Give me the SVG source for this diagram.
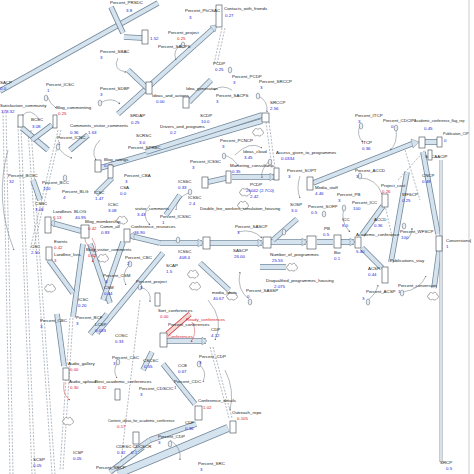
<svg xmlns="http://www.w3.org/2000/svg" width="474" height="474" viewBox="0 0 474 474">
<defs>
<style>
.po{fill:none;stroke:#74899b;stroke-width:5.6;stroke-linecap:butt}
.pi{fill:none;stroke:#d5e3ee;stroke-width:4;stroke-linecap:butt}
.wo{fill:none;stroke:#74899b;stroke-width:8}
.wi{fill:none;stroke:#d5e3ee;stroke-width:6.4}
.no{fill:none;stroke:#8a98a6;stroke-width:3}
.ni{fill:none;stroke:#eef3f7;stroke-width:1.6}
.ro{fill:none;stroke:#d04848;stroke-width:5}
.ri{fill:none;stroke:#f4d8d8;stroke-width:3.6}
.dd{fill:none;stroke:#7d8a96;stroke-width:0.6;stroke-dasharray:2,1.4}
.ln{fill:none;stroke:#5a6470;stroke-width:0.45;marker-end:url(#ah)}
.lr{fill:none;stroke:#d04848;stroke-width:0.5;marker-end:url(#ahr)}
.st{fill:#fff;stroke:#3c4650;stroke-width:0.6}
.vl{fill:#e8eef4;stroke:#4a5560;stroke-width:0.45}
.ar{fill:#d5e3ee;stroke:#74899b;stroke-width:0.5}
.cl{fill:#fff;stroke:#555;stroke-width:0.5}
text{font-family:"Liberation Sans Narrow","Liberation Sans",Arial,sans-serif;font-size:4.4px;fill:#222}
.sm{font-size:3.6px}
.v{fill:#2424d8}
.r{fill:#d42424}
</style>
<marker id="ah" viewBox="0 0 6 6" refX="5" refY="3" markerWidth="4" markerHeight="4" orient="auto"><path d="M0,0L6,3L0,6z" fill="#5a6470"/></marker>
<marker id="ahr" viewBox="0 0 6 6" refX="5" refY="3" markerWidth="4" markerHeight="4" orient="auto"><path d="M0,0L6,3L0,6z" fill="#d04848"/></marker>
<path id="cloud" d="M-4,2 C-6,2 -6,-1 -4,-1 C-4,-4 -1,-4 0,-2.5 C1,-4.5 4,-4 4,-1 C6,-1 6,2 4,2.5 C3,4.5 0,4.5 -0.5,3 C-2,4.5 -4,4 -4,2z"/>
<ellipse id="valve" rx="1.8" ry="3" />
</defs>
<rect width="474" height="474" fill="#fff"/>
<line x1="469" y1="0" x2="469" y2="474" stroke="#c9ced3" stroke-width="1"/>

<g id="connectors">
 <path class="dd" d="M3,112 L10,474"/><path class="dd" d="M6,112 L13,474"/>
 <path class="dd" d="M18,126 L32,474"/><path class="dd" d="M21,126 L35,474"/>
 <path class="dd" d="M28,130 L52,474"/><path class="dd" d="M31,130 L55,474"/>
 <path class="dd" d="M58,130 L30,250"/><path class="dd" d="M61,130 L33,250"/>
 <path class="dd" d="M222,28 L214,64"/><path class="dd" d="M225,28 L217,64"/>
 <path class="dd" d="M266,122 L272,168"/><path class="dd" d="M269,122 L275,168"/>
 <path class="dd" d="M385,205 L395,250"/><path class="dd" d="M398,180 L425,150"/>
 <path class="dd" d="M405,150 L420,200"/>
 <path class="dd" d="M210,347 L229,418"/><path class="dd" d="M213,347 L232,418"/>
 <path class="dd" d="M70,318 L60,470"/><path class="dd" d="M73,318 L63,470"/>
 <path class="dd" d="M140,300 L120,470"/>

 <path class="po" d="M0,91 L158,3"/><path class="pi" d="M0,91 L158,3"/>
 <path class="po" d="M118,114 L214,28"/><path class="pi" d="M118,114 L214,28"/>
 <polygon class="ar" points="210,26 217,25 215,32"/>
 <path class="po" d="M111,7 L123,33"/><path class="pi" d="M111,7 L123,33"/>
 <path class="po" d="M124,37 L142,38"/><path class="pi" d="M124,37 L142,38"/>
 <path class="po" d="M128,70 L147,88"/><path class="pi" d="M128,70 L147,88"/>
 <path class="po" d="M189,102 L211,80"/><path class="pi" d="M189,102 L211,80"/>
 <path class="po" d="M100,168 L262,121"/><path class="pi" d="M100,168 L262,121"/>
 <path class="po" d="M146,152 L262,115"/><path class="pi" d="M146,152 L262,115"/>
 <path class="po" d="M313,183 L414,143"/><path class="pi" d="M313,183 L414,143"/>
 <polygon class="ar" points="411,139 419,142 413,148"/>
 <path class="po" d="M425,142 L437,142"/><path class="pi" d="M425,142 L437,142"/>
 <path class="po" d="M423,152 L438,234"/><path class="pi" d="M423,152 L438,234"/>
 <path class="po" d="M439,251 L434,288"/><path class="pi" d="M439,251 L434,288"/>
 <path class="no" d="M441,160 L441,462"/><path class="ni" d="M441,160 L441,462"/>

 <path class="po" d="M160,243 L202,243"/><path class="pi" d="M160,243 L202,243"/>
 <polygon class="ar" points="198,239 204,243 198,247"/>
 <path class="po" d="M210,243 L262,243"/><path class="pi" d="M210,243 L262,243"/>
 <polygon class="ar" points="258,239 263,243 258,247"/>
 <path class="po" d="M271,242 L306,242"/><path class="pi" d="M271,242 L306,242"/>
 <polygon class="ar" points="302,238 307,242 302,246"/>
 <path class="po" d="M317,242 L333,242"/><path class="pi" d="M317,242 L333,242"/>
 <path class="po" d="M341,242 L354,242"/><path class="pi" d="M341,242 L354,242"/>
 <polygon class="ar" points="350,238 355,242 350,246"/>
 <path class="po" d="M362,235 L383,206"/><path class="pi" d="M362,235 L383,206"/>
 <path class="po" d="M362,248 L382,268"/><path class="pi" d="M362,248 L382,268"/>
 <path class="po" d="M391,262 L407,172"/><path class="pi" d="M391,262 L407,172"/>
 <path class="po" d="M273,240 L297,219"/><path class="pi" d="M273,240 L297,219"/>
 <path class="po" d="M232,177 L274,177"/><path class="pi" d="M232,177 L274,177"/>
 <polygon class="ar" points="270,173 275,177 270,181"/>
 <path class="po" d="M208,182 L226,178"/><path class="pi" d="M208,182 L226,178"/>
 <path class="po" d="M166,215 L180,195"/><path class="pi" d="M166,215 L180,195"/>
 <path class="po" d="M200,263 L229,290"/><path class="pi" d="M200,263 L229,290"/>
 <path class="po" d="M260,267 L286,267"/><path class="pi" d="M260,267 L286,267"/>
 <path class="po" d="M160,243 L131,236"/><path class="pi" d="M160,243 L131,236"/>
 <polygon class="ar" points="134,232 129,236 134,240"/>
 <path class="po" d="M81,231 L52,223"/><path class="pi" d="M81,231 L52,223"/>
 <polygon class="ar" points="55,219 50,223 54,227"/>
 <path class="po" d="M97,333 L163,253"/><path class="pi" d="M97,333 L163,253"/>
 <path class="po" d="M83,244 L73,317"/><path class="pi" d="M83,244 L73,317"/>
 <path class="po" d="M90,244 L110,303"/><path class="pi" d="M90,244 L110,303"/>
 <path class="po" d="M123,242 L103,300"/><path class="pi" d="M123,242 L103,300"/>
 <path class="po" d="M49,260 L73,293"/><path class="pi" d="M49,260 L73,293"/>
 <path class="po" d="M22,128 L48,150"/><path class="pi" d="M22,128 L48,150"/>
 <path class="po" d="M32,140 L52,125"/><path class="pi" d="M32,140 L52,125"/>
 <path class="po" d="M70,150 L88,135"/><path class="pi" d="M70,150 L88,135"/>
 <path class="po" d="M40,200 L33,180"/><path class="pi" d="M40,200 L33,180"/>
 <path class="po" d="M112,178 L96,194"/><path class="pi" d="M112,178 L96,194"/>
 <path class="po" d="M167,341 L206,341"/><path class="pi" d="M167,341 L206,341"/>
 <polygon class="ar" points="202,337 207,341 202,345"/>
 <path class="ro" d="M167,334 L190,314"/><path class="ri" d="M167,334 L190,314"/>
 <path class="po" d="M163,364 L195,404"/><path class="pi" d="M163,364 L195,404"/>
 <path class="po" d="M57,314 L64,366"/><path class="pi" d="M57,314 L64,366"/>
 <path class="po" d="M90,334 L107,314"/><path class="pi" d="M90,334 L107,314"/>
 <path class="po" d="M110,472 L143,447"/><path class="pi" d="M110,472 L143,447"/>
 <path class="wo" d="M118,474 L228,428"/><path class="wi" d="M118,474 L228,428"/>
 <path class="po" d="M150,440 L196,424"/><path class="pi" d="M150,440 L196,424"/>
 <path class="po" d="M136,450 L150,440"/><path class="pi" d="M136,450 L150,440"/>
 <path class="po" d="M143,370 L152,352"/><path class="pi" d="M143,370 L152,352"/>

 <path class="ln" d="M47,96 Q50,104 56,108"/>
 <path class="ln" d="M100,103 Q112,96 120,104"/>
 <path class="ln" d="M118,58 Q112,70 126,72"/>
 <path class="ln" d="M182,44 Q172,50 176,60"/>
 <path class="ln" d="M232,90 Q222,84 214,90"/>
 <path class="ln" d="M258,96 Q268,100 267,112"/>
 <path class="ln" d="M224,155 Q234,158 238,166"/>
 <path class="ln" d="M270,160 Q260,170 262,178"/>
 <path class="ln" d="M238,232 Q252,228 262,238"/>
 <path class="ln" d="M250,300 Q236,290 240,272"/>
 <path class="ln" d="M360,178 Q376,178 382,194"/>
 <path class="ln" d="M344,208 Q340,222 350,232"/>
 <path class="ln" d="M406,240 Q412,236 412,228"/>
 <path class="ln" d="M368,300 Q376,294 378,285"/>
 <path class="ln" d="M402,292 Q420,290 426,276"/>
 <path class="ln" d="M140,287 Q152,290 150,302"/>
 <path class="ln" d="M190,192 Q176,198 176,210"/>
 <path class="ln" d="M58,147 Q64,156 72,158"/>
 <path class="ln" d="M118,362 Q112,370 117,378"/>
 <path class="ln" d="M198,364 Q208,370 203,382"/>
 <path class="ln" d="M170,440 Q182,448 180,460"/>
 <path class="ln" d="M8,150 Q-6,200 14,250"/>
 <path class="ln" d="M360,125 Q356,136 363,142"/>
 <path class="ln" d="M396,128 Q398,144 390,150"/>
 <path class="ln" d="M150,205 Q140,215 150,225"/>
 <path class="ln" d="M130,264 Q120,275 126,285"/>
 <path class="ln" d="M235,155 Q250,140 262,148"/>
 <path class="ln" d="M300,176 Q296,188 300,198"/>
 <path class="ln" d="M208,300 Q225,320 215,340"/>
 <path class="ln" d="M225,370 Q235,390 230,410"/>
 <path class="ln" d="M40,120 Q30,106 22,116"/>
 <path class="ln" d="M100,140 Q90,150 96,160"/>
 <path class="lr" d="M86,226 Q80,246 96,250"/>
 <path class="lr" d="M92,238 Q100,252 92,262"/>
 <path class="lr" d="M64,382 Q62,395 70,400"/>
 <path class="lr" d="M192,322 Q198,332 191,342"/>
</g>

<g id="clouds">
 <use href="#cloud" class="cl" x="258" y="132"/>
 <use href="#cloud" class="cl" x="245" y="192"/>
 <use href="#cloud" class="cl" x="232" y="296"/>
 <use href="#cloud" class="cl" x="193" y="274"/>
 <use href="#cloud" class="cl" x="292" y="267"/>
 <use href="#cloud" class="cl" x="433" y="296"/>
 <use href="#cloud" class="cl" x="103" y="258"/>
 <use href="#cloud" class="cl" x="50" y="288"/>
 <use href="#cloud" class="cl" x="68" y="421"/>
 <use href="#cloud" class="cl" x="195" y="286"/>
 <use href="#cloud" class="cl" x="122" y="220"/>
 <use href="#cloud" class="cl" x="243" y="205"/>
</g>

<g id="valves">
 <use href="#valve" class="vl" x="46" y="98"/>
 <use href="#valve" class="vl" x="100" y="103"/>
 <use href="#valve" class="vl" x="183" y="45"/>
 <use href="#valve" class="vl" x="230" y="70"/>
 <use href="#valve" class="vl" x="258" y="96"/>
 <use href="#valve" class="vl" x="224" y="156"/>
 <use href="#valve" class="vl" x="270" y="162"/>
 <use href="#valve" class="vl" x="284" y="232"/>
 <use href="#valve" class="vl" x="250" y="302"/>
 <use href="#valve" class="vl" x="360" y="176"/>
 <use href="#valve" class="vl" x="344" y="208"/>
 <use href="#valve" class="vl" x="324" y="214"/>
 <use href="#valve" class="vl" x="368" y="302"/>
 <use href="#valve" class="vl" x="402" y="293"/>
 <use href="#valve" class="vl" x="404" y="226"/>
 <use href="#valve" class="vl" x="361" y="126"/>
 <use href="#valve" class="vl" x="396" y="128"/>
 <use href="#valve" class="vl" x="58" y="147"/>
 <use href="#valve" class="vl" x="118" y="362"/>
 <use href="#valve" class="vl" x="199" y="364"/>
 <use href="#valve" class="vl" x="170" y="444"/>
 <use href="#valve" class="vl" x="130" y="264"/>
 <use href="#valve" class="vl" x="190" y="192"/>
 <use href="#valve" class="vl" x="140" y="287"/>
 <use href="#valve" class="vl" x="65" y="178"/>
 <use href="#valve" class="vl" x="178" y="240"/>
</g>

<g id="n_sacp"><text x="0" y="84">SACP</text><text class="v" x="0" y="90">0.0</text></g>
<g id="n_satisfaction"><text x="0" y="107">Satisfaction_community</text><text class="v" x="1" y="113">378.32</text></g>
<g id="n_pct_icsc"><text x="46" y="86">Percent_ICSC</text><text class="v" x="47" y="92">1</text></g>
<g id="n_blog_comm"><rect class="st" x="53" y="115" width="4" height="13"/><text x="56" y="109">Blog_commenting</text><text class="r" x="58" y="115">0.25</text></g>
<g id="n_bcsc"><rect class="st" x="18" y="115" width="5" height="12"/><text x="31" y="121">BCSC</text><text class="v" x="32" y="128">3.08</text></g>
<g id="n_comments"><text x="70" y="127">Comments_visitor_comments</text><text class="v" x="70" y="134">0.36</text><text class="v" x="88" y="134">1.63</text></g>
<g id="n_pct_icnc"><text x="57" y="139">Percent_ICNC</text><text class="v" x="58" y="145">1</text></g>
<g id="n_pct_sbac"><text x="100" y="53">Percent_SBAC</text><text class="v" x="100" y="59">3</text></g>
<g id="n_pct_sdbp"><text x="100" y="90">Percent_SDBP</text><text class="v" x="100" y="96">3</text></g>
<g id="n_top_stock"><rect class="st" x="142" y="30" width="6" height="14"/><text class="v" x="150" y="40">1.52</text></g>
<g id="n_top2"><rect class="st" x="146" y="82" width="6" height="12"/><text x="110" y="4">Percent_PRSDC</text><text class="v" x="126" y="12">3.8</text></g>
<g id="n_srdap"><text x="130" y="117">SRDAP</text><text class="v" x="131" y="124">0.25</text></g>
<g id="n_ideas"><text x="152" y="97">Ideas_and_actions</text><text class="v" x="156" y="103">0.00</text></g>
<g id="n_scrsc"><text x="136" y="137">SCRSC</text><text class="v" x="139" y="144">3.0</text></g>
<g id="n_pct_sprbc"><text x="128" y="149">Percent_SPRBC</text></g>
<g id="n_blog_ratings"><rect class="st" x="95" y="160" width="6" height="12"/><text x="104" y="161">Blog_ratings</text><text class="v" x="104" y="167">0.41</text></g>
<g id="n_drivers"><text x="160" y="128">Drivers_and_programs</text><text class="v" x="170" y="134">0.2</text></g>
<g id="n_contacts"><rect class="st" x="216" y="5" width="6" height="22"/><text x="224" y="10">Contacts_with_friends</text><text class="v" x="225" y="17">0.27</text></g>
<g id="n_pct_phcsac"><text x="185" y="12">Percent_PhCSAC</text><text class="v" x="189" y="19">3</text></g>
<g id="n_pct_project"><text x="168" y="34">Percent_project</text><text class="r" x="177" y="40">0.25</text></g>
<g id="n_pct_sacps1"><text x="158" y="48">Percent_SACPS</text></g>
<g id="n_pcdp"><rect class="st" x="183" y="97" width="6" height="11"/><text x="213" y="65">PCDP</text><text class="v" x="215" y="71">0.25</text></g>
<g id="n_pct_pcdp"><text x="232" y="78">Percent_PCDP</text><text class="v" x="233" y="84">3</text></g>
<g id="n_pct_sacps"><text x="216" y="97">Percent_SACPS</text><text class="v" x="216" y="103">3</text></g>
<g id="n_idea_gen"><text x="186" y="90">Idea_generation</text></g>
<g id="n_scdp"><text x="200" y="117">SCDP</text><text class="v" x="201" y="123">10.0</text></g>
<g id="n_pct_srccp"><text x="259" y="83">Percent_SRCCP</text><text class="v" x="260" y="89">3</text></g>
<g id="n_srccp"><rect class="st" x="262" y="113" width="7" height="9"/><text x="270" y="104">SRCCP</text><text class="v" x="270" y="110">2.56</text></g>
<g id="n_pct_pcncp"><text x="220" y="142">Percent_PCNCP</text><text class="v" x="222" y="148">3</text></g>
<g id="n_ideas_cloud"><text x="243" y="153">Ideas_cloud</text><text class="v" x="244" y="159">3.45</text></g>
<g id="n_access"><text x="276" y="154">Access_given_to_programmes</text><text class="v" x="281" y="160">0.0334</text></g>
<g id="n_marketing"><rect class="st" x="226" y="171" width="5" height="12"/><rect class="st" x="274" y="168" width="5" height="12"/><text x="230" y="167">Marketing_consultants</text><text class="v" x="232" y="173">0.35</text></g>
<g id="n_pct_sopt"><text x="287" y="172">Percent_SOPT</text><text class="v" x="288" y="178">3</text></g>
<g id="n_media"><rect class="st" x="307" y="177" width="6" height="13"/><text x="315" y="189">Media_staff</text><text class="v" x="315" y="195">4.46</text></g>
<g id="n_pcdp2"><text x="250" y="186">PCDP</text><text class="v" x="246" y="192">25042 (2.7C0)</text><text class="v" x="250" y="198">2.42</text></g>
<g id="n_sosp"><text x="290" y="206">SOSP</text><text class="v" x="291" y="212">3.0</text></g>
<g id="n_stock_a"><rect class="st" x="202" y="177" width="6" height="11"/></g>
<g id="n_pct_icssc"><text x="190" y="163">Percent_ICSSC</text><text class="v" x="192" y="169">3</text></g>
<g id="n_icssc1"><text x="178" y="183">ICSSC</text><text class="v" x="178" y="189">0.33</text></g>
<g id="n_icssc2"><text x="188" y="199">ICSSC</text><text class="v" x="189" y="205">2.4</text></g>
<g id="n_double"><text x="200" y="210">Double_fee_workers_simulation_housing</text></g>
<g id="n_pct_icssc2"><text x="160" y="218">Percent_ICSSC</text><text class="v" x="162" y="224">1</text></g>
<g id="n_pct_sascp"><text x="235" y="228">Percent_SASCP</text><text class="v" x="237" y="234">3</text></g>
<g id="n_main1"><rect class="st" x="203" y="237" width="7" height="12"/></g>
<g id="n_main2"><rect class="st" x="263" y="237" width="8" height="11"/></g>
<g id="n_main3"><rect class="st" x="307" y="236" width="9" height="13"/></g>
<g id="n_sascp"><text x="233" y="252">SASCP</text><text class="v" x="234" y="258">26.00</text></g>
<g id="n_icssc3"><text x="178" y="253">ICSSC</text><text class="v" x="179" y="259">408.4</text></g>
<g id="n_numprog"><text x="270" y="256">Number_of_programmes</text><text class="v" x="272" y="262">25.55</text></g>
<g id="n_disq"><text x="266" y="282">Disqualified_programmes_housing</text><text class="v" x="274" y="288">2.075</text></g>
<g id="n_pct_sassp"><text x="246" y="292">Percent_SASSP</text><text class="v" x="247" y="298">0</text></g>
<g id="n_media_ideas"><text x="212" y="294">media_ideas</text><text class="v" x="213" y="300">40.67</text></g>
<g id="n_pct_itcp"><text x="355" y="117">Percent_ITCP</text><text class="v" x="358" y="123">3</text></g>
<g id="n_pct_cdcip"><text x="383" y="122">Percent_CDCIP</text><text class="v" x="391" y="128">0</text></g>
<g id="n_acad_flag"><rect class="st" x="419" y="137" width="6" height="11"/><text class="sm" x="414" y="122">Academic_conference_flag_rep</text><text class="v" x="424" y="130">0.45</text></g>
<g id="n_pub_cip"><rect class="st" x="437" y="137" width="5" height="10"/><text class="sm" x="443" y="135">Publication_CIP</text><text class="v" x="444" y="142">0</text></g>
<g id="n_itcp"><text x="362" y="144">ITCP</text><text class="v" x="362" y="150">0.36</text></g>
<g id="n_scca"><text x="425" y="158">SCCAACIP</text><rect class="st" x="428" y="150" width="4" height="10"/></g>
<g id="n_pct_accd"><text x="355" y="172">Percent_ACCD</text><text class="v" x="356" y="178">3</text></g>
<g id="n_project_cost"><rect class="st" x="382" y="194" width="6" height="13"/><text x="381" y="187">Project_cost</text><text class="r" x="382" y="193">0.26</text></g>
<g id="n_cncp"><text x="422" y="177">CNCP</text><text class="v" x="422" y="183">0.49</text></g>
<g id="n_wfscp"><text x="402" y="196">WFSCP</text><text class="v" x="402" y="202">0.25</text></g>
<g id="n_pct_sofp"><text x="308" y="208">Percent_SOFP</text><text class="v" x="311" y="214">0.5</text></g>
<g id="n_pct_pb"><text x="337" y="196">Percent_PB</text><text class="v" x="338" y="202">3</text></g>
<g id="n_pct_icc"><text x="352" y="204">Percent_ICC</text><text class="v" x="353" y="210">100</text></g>
<g id="n_accd"><text x="374" y="221">ACCD</text><text class="v" x="374" y="227">0.36</text></g>
<g id="n_pb"><text x="324" y="230">PB</text><text class="v" x="323" y="236">0.5</text></g>
<g id="n_icc"><text x="342" y="221">ICC</text><text class="v" x="342" y="227">8.0</text></g>
<g id="n_acad_conf"><rect class="st" x="355" y="237" width="6" height="11"/><text x="356" y="236">Academic_conference</text><text class="v" x="356" y="253">5.40</text></g>
<g id="n_bio"><rect class="st" x="334" y="235" width="7" height="13"/><text x="334" y="254">Bio</text><text class="v" x="334" y="260">0.1</text></g>
<g id="n_pct_wfscp"><text x="400" y="233">Percent_WFSCP</text><text class="v" x="401" y="239">100</text></g>
<g id="n_pub_stay"><text x="390" y="262">Publications_stay</text></g>
<g id="n_acsp"><rect class="st" x="382" y="267" width="6" height="16"/><text x="368" y="270">ACSP</text><text class="v" x="368" y="276">0.44</text></g>
<g id="n_pct_acsp"><text x="366" y="293">Percent_ACSP</text><text class="v" x="362" y="300">3</text></g>
<g id="n_conversions"><rect class="st" x="436" y="236" width="6" height="15"/><text x="446" y="242">Conversions</text><text class="v" x="446" y="248">1</text></g>
<g id="n_pct_conv"><text x="398" y="287">Percent_conversion</text><text class="v" x="398" y="293">1</text></g>
<g id="n_srcp_r"><text x="440" y="464">SRCP</text><text class="v" x="446" y="470">0.5</text></g>
<g id="n_pct_bcsc"><text x="8" y="177">Percent_BCSC</text><text class="v" x="9" y="183">32</text></g>
<g id="n_pct_bcc"><text x="42" y="184">Percent_BCC</text><text class="v" x="43" y="190">100</text></g>
<g id="n_pct_blg"><text x="62" y="193">Percent_BLG</text><text class="v" x="63" y="199">4</text></g>
<g id="n_csbc"><text x="35" y="205">CSBC</text><text class="v" x="35" y="211">3.08</text></g>
<g id="n_landlines"><rect class="st" x="45" y="217" width="6" height="16"/><text x="53" y="213">Landlines</text><text class="r" x="53" y="219">6.13</text></g>
<g id="n_blog"><text x="74" y="213">BLOG</text><text class="v" x="75" y="219">40.95</text></g>
<g id="n_blog_memb"><rect class="st" x="81" y="225" width="8" height="13"/><text x="85" y="223">Blog_membership</text><text class="r" x="88" y="230">0.42</text></g>
<g id="n_icsc"><text x="94" y="194">ICSC</text><text class="v" x="95" y="200">1.47</text></g>
<g id="n_icsc2"><rect class="st" x="108" y="165" width="5" height="13"/><text x="108" y="206">ICSC</text><text class="v" x="108" y="212">3.08</text></g>
<g id="n_pct_cba"><text x="124" y="177">Percent_CBA</text><text class="v" x="125" y="183">3</text></g>
<g id="n_csa"><text x="120" y="189">CSA</text><text class="v" x="120" y="195">0.0</text></g>
<g id="n_visitor"><text x="135" y="210">visitor_comments</text><text class="v" x="137" y="216">3.43</text></g>
<g id="n_comm_all"><text x="100" y="228">Comm_all</text><text class="v" x="101" y="234">0.83</text></g>
<g id="n_conf_res"><rect class="st" x="124" y="229" width="6" height="13"/><text x="131" y="228">Conference_resources</text><text class="v" x="134" y="234">36.90</text></g>
<g id="n_blog_vc"><text x="86" y="251">Blog_visitor_comments</text><text class="r" x="88" y="257">0.62</text></g>
<g id="n_pct_cbc"><text x="125" y="259">Percent_CBC</text><text class="v" x="127" y="265">2</text></g>
<g id="n_pct_csm"><text x="103" y="277">Percent_CSM</text><text class="v" x="105" y="283">3</text></g>
<g id="n_csm"><text x="104" y="289">CSM</text><text class="v" x="104" y="295">0.44</text></g>
<g id="n_pct_project2"><text x="136" y="283">Percent_project</text><text class="v" x="140" y="289">3</text></g>
<g id="n_events"><rect class="st" x="46" y="247" width="6" height="13"/><text x="54" y="243">Events</text><text class="r" x="54" y="249">0.42</text></g>
<g id="n_csc"><text x="31" y="248">CSC</text><text class="v" x="31" y="254">2.50</text></g>
<g id="n_landlist"><text x="54" y="256">Landline_lists</text><text class="r" x="54" y="262">3</text></g>
<g id="n_icsc3"><text x="78" y="301">ICSC</text><text class="v" x="78" y="307">0.20</text></g>
<g id="n_scap"><rect class="st" x="155" y="293" width="5" height="13"/><text x="166" y="267">SCAP</text><text class="v" x="166" y="273">1.5</text></g>
<g id="n_pct_cbc2"><text x="40" y="322">Percent_CBC</text><text class="v" x="40" y="328">3</text></g>
<g id="n_pct_bcf"><text x="76" y="319">Percent_BCF</text><text class="v" x="76" y="325">3</text></g>
<g id="n_lcsp"><text x="95" y="326">LCSP</text><text class="v" x="95" y="332">0.033</text></g>
<g id="n_cosc"><text x="115" y="337">COSC</text><text class="v" x="115" y="343">0.33</text></g>
<g id="n_pct_csc"><text x="112" y="359">Percent_CSC</text><text class="v" x="113" y="365">3</text></g>
<g id="n_cscsc"><text x="143" y="362">CSCSC</text><text class="v" x="144" y="368">0.55</text></g>
<g id="n_audio_gal"><rect class="st" x="63" y="368" width="6" height="12"/><text x="68" y="365">Audio_gallery</text><text class="r" x="70" y="371">0.00</text></g>
<g id="n_audio_up"><text x="69" y="383">Audio_upload</text><text class="r" x="70" y="389">0.30</text></g>
<g id="n_best_acad"><rect class="st" x="115" y="389" width="5" height="11"/><text x="95" y="383">Best_academic_conferences</text><text class="r" x="98" y="389">0.32</text></g>
<g id="n_pct_cdscic"><text x="139" y="390">Percent_CDSCIC</text><text class="v" x="140" y="396">3</text></g>
<g id="n_content_ideas"><rect class="st" x="133" y="432" width="6" height="12"/><text class="sm" x="108" y="422">Content_ideas_for_academic_conference</text><text class="r" x="117" y="428">0.17</text></g>
<g id="n_cdesc"><text x="116" y="448">CDESC CDCSCR</text><text class="v" x="117" y="454">0.32</text><text class="v" x="131" y="454">0.1</text></g>
<g id="n_scsp"><text x="33" y="461">SCSP</text><text class="v" x="33" y="467">0.05</text></g>
<g id="n_icsp"><text x="73" y="454">ICSP</text><text class="v" x="73" y="460">0.05</text></g>
<g id="n_pct_srcp"><text x="96" y="469">Percent_SRCP</text></g>
<g id="n_conferences"><rect class="st" x="160" y="333" width="7" height="14"/><text class="r" x="168" y="338">Conferences</text></g>
<g id="n_sort_conf"><text x="158" y="312">Sort_conferences</text><text class="r" x="160" y="318">0.00</text></g>
<g id="n_ready_conf"><text class="r" x="186" y="321">Ready_conferences</text><text x="168" y="326">Percent_conferences</text></g>
<g id="n_cdp"><text x="211" y="331">CDP</text><text class="v" x="211" y="337">4.12</text></g>
<g id="n_pct_cdp"><text x="199" y="358">Percent_CDP</text><text class="v" x="199" y="364">3</text></g>
<g id="n_cce"><text x="178" y="367">CCE</text><text class="v" x="178" y="373">0.67</text></g>
<g id="n_pct_cdc"><text x="174" y="383">Percent_CDC</text><text class="v" x="174" y="389">1</text></g>
<g id="n_conf_det"><rect class="st" x="195" y="406" width="7" height="14"/><text x="198" y="402">Conference_details</text><text class="r" x="203" y="409">1.02</text></g>
<g id="n_outreach"><rect class="st" x="230" y="421" width="6" height="12"/><text x="232" y="414">Outreach_repo</text><text class="r" x="237" y="420">0.105</text></g>
<g id="n_cdf"><text x="185" y="424">CDF</text><text class="v" x="185" y="430">0.36</text></g>
<g id="n_pct_cdp2"><text x="158" y="438">Percent_CDP</text><text class="v" x="158" y="444">3</text></g>
<g id="n_pct_src"><text x="198" y="465">Percent_SRC</text><text class="v" x="200" y="471">3</text></g>
<g id="n_edge"><text x="470" y="242">|</text></g>
</svg>
